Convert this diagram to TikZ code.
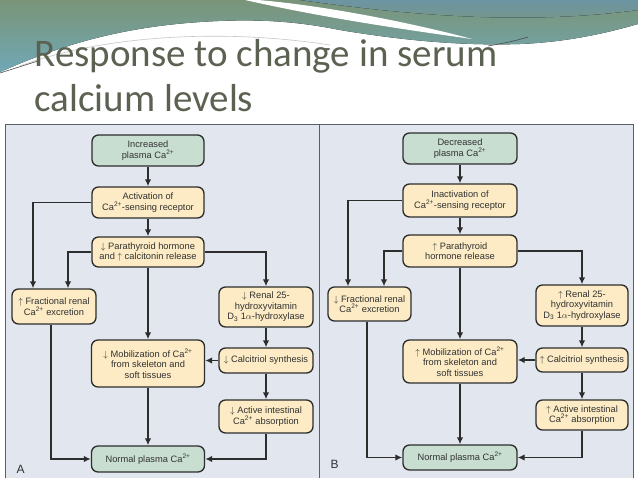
\documentclass[tikz,border=0pt]{standalone}
\usepackage{fontspec}
\setmainfont{Liberation Sans}
\newfontfamily\titlefont{Carlito}
\usepackage{xcolor}
\usepackage{tikz}
\usetikzlibrary{arrows.meta,positioning}

\definecolor{paneblue}{RGB}{226,230,238}
\definecolor{paneline}{RGB}{85,95,110}
\definecolor{boxgreen}{RGB}{200,222,209}
\definecolor{boxtan}{RGB}{252,235,196}
\definecolor{boxline}{RGB}{45,45,45}
\definecolor{boxtext}{RGB}{50,50,50}
\definecolor{titlecol}{RGB}{92,98,82}
\definecolor{hdgreen}{RGB}{122,148,120}
\definecolor{hdteal}{RGB}{112,168,182}
\definecolor{hdblue}{RGB}{108,148,162}

\newcommand{\cion}{Ca\textsuperscript{2+}}
\newcommand{\up}{$\uparrow$}
\newcommand{\dn}{$\downarrow$}

\begin{document}
\begin{tikzpicture}[x=1pt,y=-1pt,>={Latex[length=7pt,width=6.5pt]},
  box/.style={draw=boxline,line width=1.3pt,rounded corners=6.5pt,align=center,
    font=\fontsize{9.3}{10.5}\selectfont,text=boxtext,inner sep=1pt},
  greenbox/.style={box,fill=boxgreen},
  tanbox/.style={box,fill=boxtan},
  flow/.style={->,line width=1.6pt,draw=boxline}]
  \useasboundingbox (0,0) rectangle (638,478);
  \fill[white] (0,0) rectangle (638,478);

  % slide header
  \fill[top color=hdgreen,bottom color=hdteal]
    (0,0) -- (0,72) .. controls (50,50) and (110,28) .. (200,22)
    .. controls (260,18) and (300,22) .. (340,30)
    .. controls (400,40) and (460,46) .. (520,44)
    .. controls (570,42) and (610,32) .. (638,24) -- (638,0) -- cycle;
  \fill[top color=hdblue,bottom color=hdgreen!80!hdteal]
    (300,0) .. controls (400,14) and (520,26) .. (638,10) -- (638,0) -- cycle;
  \fill[white] (258,0) .. controls (330,6) and (420,25) .. (472,39)
    .. controls (400,29) and (320,17) .. (245,0) -- cycle;
  \draw[gray!45,line width=0.6pt] (20,66) .. controls (100,36) and (220,28) .. (330,45);
  \draw[black!70,line width=0.6pt] (0,73) -- (38,61);
  \draw[black!70,line width=0.6pt] (488,46) .. controls (505,43) and (515,41) .. (528,37);

  \node[anchor=base west,font=\titlefont\fontsize{39}{46}\selectfont,text=titlecol]
    (title1) at (31,67) {Response to change in serum};
  \node[anchor=base west,font=\titlefont\fontsize{39}{46}\selectfont,text=titlecol]
    (title2) at (31,112) {calcium levels};

  % panels
  \fill[paneblue] (5,124) rectangle (633,478);
  \draw[paneline,line width=0.8pt] (5,478) -- (5,124) -- (633,124) -- (633,478);
  \draw[paneline,line width=0.8pt] (319,124) -- (319,478);
  \node[anchor=base west,font=\fontsize{12}{14}\selectfont,text=boxtext] (labA) at (13,474) {A};
  \node[anchor=base west,font=\fontsize{12}{14}\selectfont,text=boxtext] (labB) at (327,469) {B};

  % panel A
  \node[greenbox,minimum width=112pt,minimum height=31pt] (incA) at (148,150.5) {Increased\\plasma \cion};
  \node[tanbox,minimum width=112pt,minimum height=31pt] (actA) at (148,202.5) {Activation of\\\cion-sensing receptor};
  \node[tanbox,minimum width=112pt,minimum height=30pt] (pthA) at (148,252) {\dn{} Parathyroid hormone\\and \up{} calcitonin release};
  \node[tanbox,minimum width=84pt,minimum height=35pt] (fraA) at (54,306.5) {\up{} Fractional renal\\\cion{} excretion};
  \node[tanbox,minimum width=94pt,minimum height=40pt] (renA) at (266,307) {\dn{} Renal 25-\\hydroxyvitamin\\D\textsubscript{3} 1$\alpha$-hydroxylase};
  \node[tanbox,minimum width=113pt,minimum height=47pt] (mobA) at (148,363.5) {\dn{} Mobilization of \cion\\from skeleton and\\soft tissues};
  \node[tanbox,minimum width=94pt,minimum height=25pt] (calA) at (266,360.5) {\dn{} Calcitriol synthesis};
  \node[tanbox,minimum width=94pt,minimum height=33pt] (absA) at (266,416.5) {\dn{} Active intestinal\\\cion{} absorption};
  \node[greenbox,minimum width=113pt,minimum height=26pt] (norA) at (148,459) {Normal plasma \cion};

  \draw[flow] (incA) -- (actA);
  \draw[flow] (actA) -- (pthA);
  \draw[flow] (actA.west) -| ([xshift=-21pt]fraA.north);
  \draw[flow] (pthA.west) -| ([xshift=14pt]fraA.north);
  \draw[flow] (pthA.east) -| (renA.north);
  \draw[flow] (pthA) -- (mobA);
  \draw[flow] (renA) -- (calA);
  \draw[flow] (calA.west) -- (calA.west -| mobA.east);
  \draw[flow] (calA) -- (absA);
  \draw[flow] (mobA) -- (norA);
  \draw[flow] ([xshift=-3pt]fraA.south) |- (norA.west);
  \draw[flow] (absA.south) |- (norA.east);

  % panel B
  \node[greenbox,minimum width=114pt,minimum height=31pt] (decB) at (460,148.5) {Decreased\\plasma \cion};
  \node[tanbox,minimum width=114pt,minimum height=33pt] (inaB) at (460,200.5) {Inactivation of\\\cion-sensing receptor};
  \node[tanbox,minimum width=114pt,minimum height=32pt] (pthB) at (460,251) {\up{} Parathyroid\\hormone release};
  \node[tanbox,minimum width=83pt,minimum height=34pt] (fraB) at (369.5,304) {\dn{} Fractional renal\\\cion{} excretion};
  \node[tanbox,minimum width=92pt,minimum height=41pt] (renB) at (582,305.5) {\up{} Renal 25-\\hydroxyvitamin\\D\textsubscript{3} 1$\alpha$-hydroxylase};
  \node[tanbox,minimum width=114pt,minimum height=43pt] (mobB) at (460,361.5) {\up{} Mobilization of \cion\\from skeleton and\\soft tissues};
  \node[tanbox,minimum width=92pt,minimum height=24pt] (calB) at (582,360) {\up{} Calcitriol synthesis};
  \node[tanbox,minimum width=92pt,minimum height=30pt] (absB) at (582,415) {\up{} Active intestinal\\\cion{} absorption};
  \node[greenbox,minimum width=114pt,minimum height=25pt] (norB) at (460,457.5) {Normal plasma \cion};

  \draw[flow] (decB) -- (inaB);
  \draw[flow] (inaB) -- (pthB);
  \draw[flow] (inaB.west) -| ([xshift=-21.5pt]fraB.north);
  \draw[flow] (pthB.west) -| ([xshift=14.5pt]fraB.north);
  \draw[flow] (pthB.east) -| (renB.north);
  \draw[flow] (pthB) -- (mobB);
  \draw[flow] (renB) -- (calB);
  \draw[flow] (calB.west) -- (calB.west -| mobB.east);
  \draw[flow] (calB) -- (absB);
  \draw[flow] (mobB) -- (norB);
  \draw[flow] ([xshift=-2.5pt]fraB.south) |- (norB.west);
  \draw[flow] (absB.south) |- (norB.east);
\end{tikzpicture}
\end{document}
